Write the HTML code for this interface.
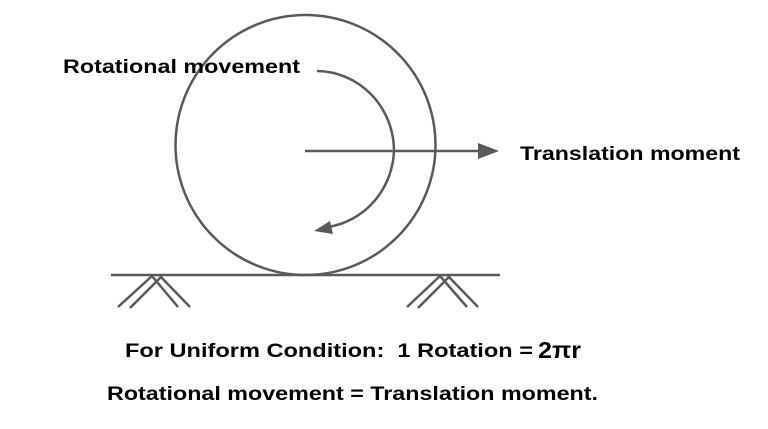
<!DOCTYPE html>
<html><head><style>html,body{margin:0;padding:0;background:#fff}svg{display:block}</style></head>
<body>
<svg width="768" height="429" viewBox="0 0 768 429" xmlns="http://www.w3.org/2000/svg">
<g fill="none" stroke="#595959" stroke-width="2.5">
<circle cx="305.5" cy="145" r="130"/>
<line x1="111" y1="275" x2="500" y2="275"/>
<line x1="152" y1="276" x2="118" y2="307"/>
<line x1="162" y1="276" x2="130" y2="308"/>
<line x1="152" y1="276" x2="178" y2="307"/>
<line x1="160" y1="276" x2="190" y2="307"/>
<line x1="440" y1="276" x2="407" y2="307"/>
<line x1="450" y1="276" x2="418" y2="308"/>
<line x1="440" y1="276" x2="467" y2="307"/>
<line x1="448" y1="276" x2="478" y2="307"/>
<line x1="305" y1="151" x2="482" y2="151"/>
<path d="M317 71 A78 80 0 0 1 394 150 A78 80 0 0 1 328 227"/>
</g>
<polygon points="499,151 478,143 478,159" fill="#595959"/>
<polygon points="314,231 330,221 333,234" fill="#595959"/>
<g font-family="Liberation Sans, Arial, sans-serif" font-weight="bold" fill="#000" font-size="19">
<text x="63" y="73" textLength="237" lengthAdjust="spacingAndGlyphs">Rotational movement</text>
<text x="520" y="160" textLength="220" lengthAdjust="spacingAndGlyphs">Translation moment</text>
<text x="125" y="357" textLength="408" lengthAdjust="spacingAndGlyphs" xml:space="preserve">For Uniform Condition:  1 Rotation =</text>
<text x="538" y="358" font-size="23" textLength="43" lengthAdjust="spacingAndGlyphs">2πr</text>
<text x="107" y="400" textLength="491" lengthAdjust="spacingAndGlyphs">Rotational movement = Translation moment.</text>
</g>
</svg>
</body></html>
